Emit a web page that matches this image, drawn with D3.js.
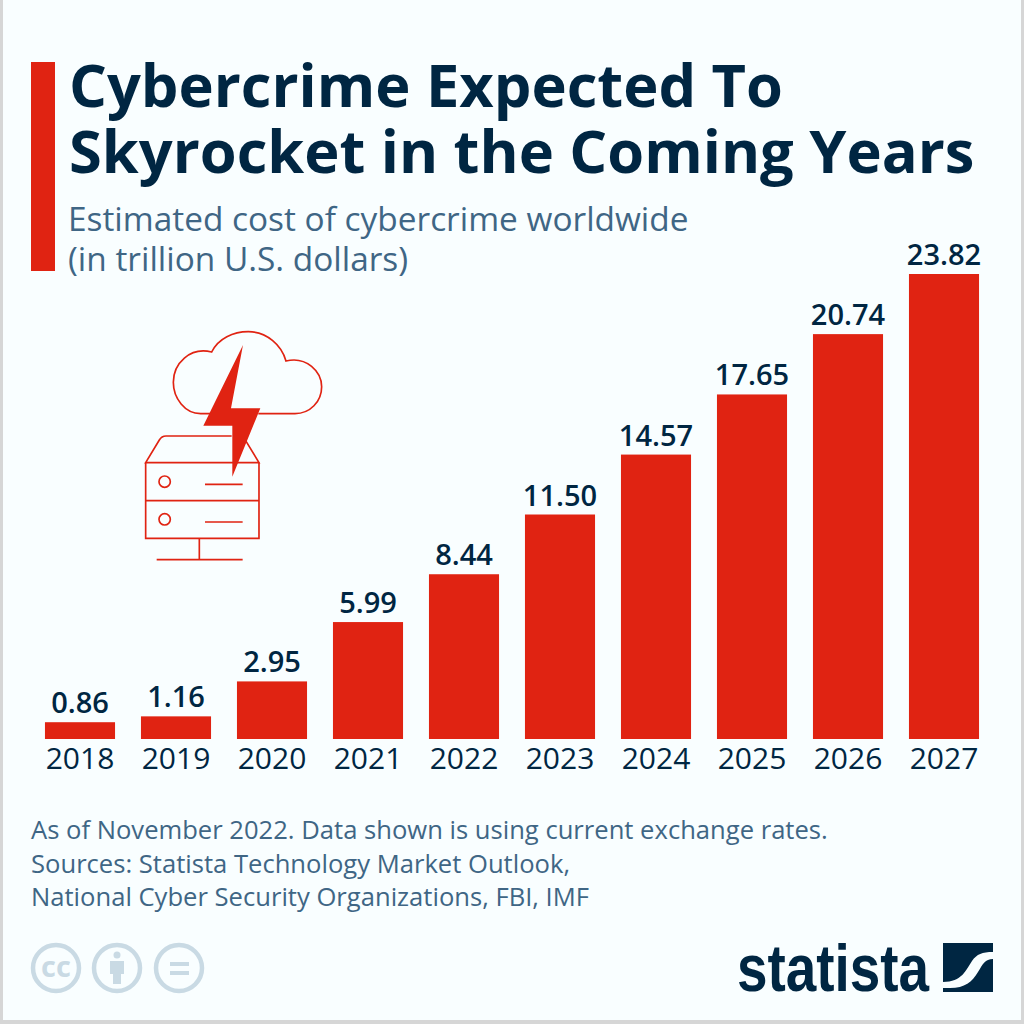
<!DOCTYPE html>
<html>
<head>
<meta charset="utf-8">
<script src="https://cdn.jsdelivr.net/npm/d3@7"></script>
<style>
  html, body { margin: 0; padding: 0; background: #fff; }
  svg { display: block; }
  text { font-family: "Open Sans", sans-serif; }
  .axis .domain, .axis line { display: none; }
</style>
</head>
<body>
<svg id="chart" width="1024" height="1024"></svg>
<script>
const years = ["2018", "2019", "2020", "2021", "2022", "2023", "2024", "2025", "2026", "2027"];
const costs = [0.86, 1.16, 2.95, 5.99, 8.44, 11.5, 14.57, 17.65, 20.74, 23.82];
const titleLines = ["Cybercrime Expected To", "Skyrocket in the Coming Years"];
const subtitleLines = ["Estimated cost of cybercrime worldwide", "(in trillion U.S. dollars)"];
const noteLines = [
  "As of November 2022. Data shown is using current exchange rates.",
  "Sources: Statista Technology Market Outlook,",
  "National Cyber Security Organizations, FBI, IMF"
];

const red = "#e02312";
const navy = "#002642";
const slate = "#3f6685";
const pale = "#c9dae4";

const svg = d3.select("#chart");

// page background and grey frame
svg.append("rect").attr("width", 1024).attr("height", 1024).attr("fill", "#d6d6d6");
svg.append("rect").attr("x", 3).attr("y", 0).attr("width", 1018).attr("height", 1020).attr("fill", "#f9feff");

// header
svg.append("rect").attr("x", 31).attr("y", 62).attr("width", 24).attr("height", 209).attr("fill", red);

svg.selectAll(".title").data(titleLines).join("text")
  .attr("class", "title")
  .attr("x", 69)
  .attr("y", (d, i) => 107 + i * 66)
  .attr("font-size", 59.6)
  .attr("font-weight", 700)
  .attr("fill", navy)
  .text(d => d);

svg.selectAll(".subtitle").data(subtitleLines).join("text")
  .attr("class", "subtitle")
  .attr("x", 68)
  .attr("y", (d, i) => 231 + i * 40)
  .attr("font-size", 33.4)
  .attr("fill", slate)
  .text(d => d);

// bars
const x = d3.scaleBand().domain(years).range([32, 992]).paddingInner(0.27).paddingOuter(0.135);
const y = d3.scaleLinear().domain([0, 23.82]).range([739, 274]);

svg.selectAll(".bar").data(costs).join("rect")
  .attr("class", "bar")
  .attr("x", (d, i) => x(years[i]))
  .attr("y", d => y(d))
  .attr("width", x.bandwidth())
  .attr("height", d => y(0) - y(d))
  .attr("fill", red);

svg.selectAll(".value").data(costs).join("text")
  .attr("class", "value")
  .attr("x", (d, i) => x(years[i]) + x.bandwidth() / 2)
  .attr("y", d => y(d) - 9)
  .attr("text-anchor", "middle")
  .attr("font-size", 29)
  .attr("font-weight", 600)
  .attr("fill", navy)
  .text(d => d.toFixed(2));

const xAxis = svg.append("g")
  .attr("class", "axis")
  .attr("transform", "translate(0,739)")
  .call(d3.axisBottom(x).tickSize(0).tickPadding(9));
xAxis.selectAll("text")
  .attr("font-size", 30)
  .style("font-family", '"Open Sans", sans-serif')
  .attr("fill", navy);

// notes
svg.selectAll(".note").data(noteLines).join("text")
  .attr("class", "note")
  .attr("x", 31)
  .attr("y", (d, i) => [839, 873, 906][i])
  .attr("font-size", 25.6)
  .attr("fill", slate)
  .text(d => d);

// server + cloud icon
const icon = svg.append("g")
  .attr("transform", "translate(130,330) scale(0.3333)")
  .attr("fill", "none")
  .attr("stroke", red)
  .attr("stroke-width", 5);
icon.append("path").attr("d", "M245,251 H212 C165,251 130,205 130,157 C130,100 180,50 245,66 C265,25 310,5 355,5 C410,5 455,45 468,93 C530,78 575,125 575,170 C575,215 540,251 495,251 H385");
icon.append("path").attr("d", "M305,318 H108 Q95,318 88,330 L47,398 H387 L347,332");
icon.append("path").attr("d", "M47,398 V625 H387 V398 M47,512 H387 M225,463 H338 M225,576 H338 M208,625 V689 M80,689 H338");
icon.append("circle").attr("cx", 104).attr("cy", 455).attr("r", 17);
icon.append("circle").attr("cx", 104).attr("cy", 568).attr("r", 17);
icon.append("path")
  .attr("d", "M339,45 L220,287 H307 V440 L391,235 H303 Z")
  .attr("fill", red)
  .attr("stroke", "none");

// licence badges
const badges = svg.append("g").attr("fill", "none").attr("stroke", pale).attr("stroke-width", 4.5);
[56, 117, 179].forEach(cx => badges.append("circle").attr("cx", cx).attr("cy", 968).attr("r", 23));
svg.append("text").attr("x", 56).attr("y", 977).attr("text-anchor", "middle")
  .attr("font-size", 29).attr("font-weight", 700).attr("fill", pale).text("cc");
svg.append("circle").attr("cx", 117).attr("cy", 955).attr("r", 3.5).attr("fill", pale);
svg.append("path").attr("d", "M110,961 H124 V974 H121 V984 H113 V974 H110 Z").attr("fill", pale);
svg.append("path").attr("d", "M170,962 H189 V966 H170 Z M170,971 H189 V975 H170 Z").attr("fill", pale);

// statista logo
svg.append("text")
  .attr("x", 737)
  .attr("y", 991)
  .attr("font-size", 66)
  .attr("font-weight", 700)
  .attr("textLength", 192)
  .attr("lengthAdjust", "spacingAndGlyphs")
  .style("font-family", '"Liberation Sans Narrow", "Liberation Sans", sans-serif')
  .attr("fill", navy)
  .text("statista");
svg.append("rect").attr("x", 943).attr("y", 943).attr("width", 50).attr("height", 49).attr("fill", navy);
svg.append("path")
  .attr("d", "M943,982 C962,982 966,970 972,961 C977,954 982,952 993,952 V959 C985,959 983,964 978,972 C972,982 965,988 950,988 H943 Z")
  .attr("fill", "#f9feff");
</script>
</body>
</html>
